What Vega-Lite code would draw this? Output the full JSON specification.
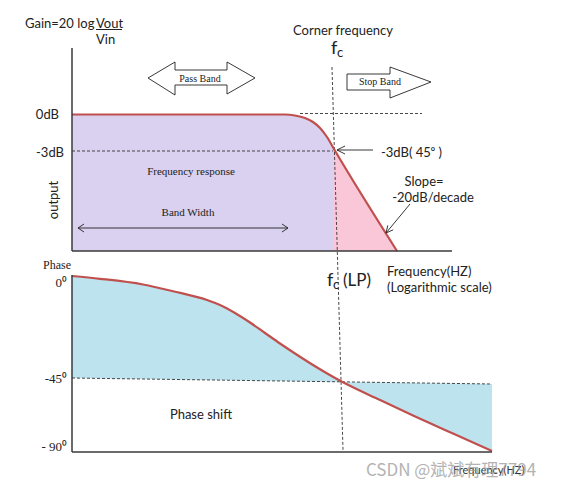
{
  "$schema": "https://vega.github.io/schema/vega-lite/v6.json",
  "width": 566,
  "height": 490,
  "padding": 0,
  "autosize": {"type": "fit", "contains": "padding"},
  "background": "white",
  "config": {"view": {"stroke": null}},
  "datasets": {
    "gain": [
      {"f": 72, "g": 114.5}, {"f": 200, "g": 114.5}, {"f": 285, "g": 114.5},
      {"f": 295, "g": 115.5}, {"f": 305, "g": 118}, {"f": 313, "g": 122},
      {"f": 320, "g": 128}, {"f": 327, "g": 137}, {"f": 334, "g": 149},
      {"f": 397, "g": 251}
    ],
    "phase": [
      {"f": 72, "p": 276, "ref": 378}, {"f": 100, "p": 278.8, "ref": 378.4},
      {"f": 143, "p": 284.5, "ref": 379}, {"f": 173, "p": 291.2, "ref": 379.4},
      {"f": 207, "p": 300, "ref": 379.9}, {"f": 220, "p": 305, "ref": 380.1},
      {"f": 235, "p": 313, "ref": 380.3}, {"f": 250, "p": 322.5, "ref": 380.6},
      {"f": 265, "p": 333, "ref": 380.8}, {"f": 280, "p": 343.5, "ref": 381},
      {"f": 295, "p": 353.5, "ref": 381.2}, {"f": 313, "p": 365, "ref": 381.4},
      {"f": 342, "p": 381.8, "ref": 381.9}, {"f": 380, "p": 400, "ref": 382.4},
      {"f": 413, "p": 415.5, "ref": 382.9}, {"f": 453, "p": 433.5, "ref": 383.4},
      {"f": 492, "p": 451, "ref": 384}
    ],
    "segs": [
      {"kind": "axis", "x": 72, "y": 48, "x2": 72, "y2": 251},
      {"kind": "axis", "x": 72, "y": 251, "x2": 452, "y2": 251},
      {"kind": "axis", "x": 72, "y": 275, "x2": 72, "y2": 452},
      {"kind": "axis", "x": 72, "y": 452, "x2": 492, "y2": 452},
      {"kind": "dash", "x": 72, "y": 151, "x2": 333, "y2": 151},
      {"kind": "dash", "x": 300, "y": 113.5, "x2": 422, "y2": 113.5},
      {"kind": "dash", "x": 332, "y": 67, "x2": 343, "y2": 450},
      {"kind": "dash", "x": 72, "y": 378, "x2": 492, "y2": 384},
      {"kind": "arrow", "x": 78, "y": 228, "x2": 288, "y2": 228},
      {"kind": "arrow", "x": 78, "y": 228, "x2": 84, "y2": 224},
      {"kind": "arrow", "x": 78, "y": 228, "x2": 84, "y2": 232},
      {"kind": "arrow", "x": 288, "y": 228, "x2": 282, "y2": 224},
      {"kind": "arrow", "x": 288, "y": 228, "x2": 282, "y2": 232},
      {"kind": "arrow", "x": 373, "y": 150, "x2": 337, "y2": 150},
      {"kind": "arrow", "x": 337, "y": 150, "x2": 345, "y2": 146},
      {"kind": "arrow", "x": 337, "y": 150, "x2": 345, "y2": 154},
      {"kind": "arrow", "x": 410, "y": 204, "x2": 386, "y2": 233},
      {"kind": "arrow", "x": 386, "y": 233, "x2": 393.2, "y2": 229.8},
      {"kind": "arrow", "x": 386, "y": 233, "x2": 387.8, "y2": 225.4}
    ],
    "blocks": [
      {"shape": "pass", "i": 0, "x": 148, "y": 78},
      {"shape": "pass", "i": 1, "x": 175, "y": 62},
      {"shape": "pass", "i": 2, "x": 175, "y": 70},
      {"shape": "pass", "i": 3, "x": 227, "y": 70},
      {"shape": "pass", "i": 4, "x": 227, "y": 62},
      {"shape": "pass", "i": 5, "x": 255, "y": 78},
      {"shape": "pass", "i": 6, "x": 227, "y": 94},
      {"shape": "pass", "i": 7, "x": 227, "y": 85},
      {"shape": "pass", "i": 8, "x": 175, "y": 85},
      {"shape": "pass", "i": 9, "x": 175, "y": 95},
      {"shape": "pass", "i": 10, "x": 148, "y": 78},
      {"shape": "stop", "i": 0, "x": 347, "y": 74},
      {"shape": "stop", "i": 1, "x": 390, "y": 74},
      {"shape": "stop", "i": 2, "x": 390, "y": 67},
      {"shape": "stop", "i": 3, "x": 431, "y": 82},
      {"shape": "stop", "i": 4, "x": 390, "y": 98},
      {"shape": "stop", "i": 5, "x": 390, "y": 90},
      {"shape": "stop", "i": 6, "x": 347, "y": 90},
      {"shape": "stop", "i": 7, "x": 347, "y": 74}
    ],
    "labels": [
      {"style": "sansLeft", "t": "Gain=20 log", "x": 25, "y": 24},
      {"style": "sansLeft", "t": "Vout", "x": 96, "y": 24},
      {"style": "sansLeft", "t": "Vin", "x": 96, "y": 40},
      {"style": "sansLeft", "t": "-3dB( 45⁰ )", "x": 381, "y": 153},
      {"style": "sansLeft", "t": "Frequency(HZ)", "x": 387, "y": 272},
      {"style": "sansLeft", "t": "(Logarithmic scale)", "x": 387, "y": 288},
      {"style": "sansRight", "t": "0dB", "x": 59, "y": 115},
      {"style": "sansRight", "t": "-3dB", "x": 64, "y": 153},
      {"style": "sansCenter", "t": "Corner frequency", "x": 343, "y": 31},
      {"style": "sansCenter", "t": "Slope=", "x": 424, "y": 182},
      {"style": "sansCenter", "t": "-20dB/decade", "x": 433, "y": 198},
      {"style": "sansCenter", "t": "Phase shift", "x": 201, "y": 415},
      {"style": "serifCenter", "t": "Frequency response", "x": 191, "y": 172},
      {"style": "serifCenter", "t": "Band Width", "x": 188, "y": 213},
      {"style": "serifSmall", "t": "Pass Band", "x": 200, "y": 79},
      {"style": "serifSmall", "t": "Stop Band", "x": 380, "y": 82},
      {"style": "serifLeft", "t": "Phase", "x": 43, "y": 265},
      {"style": "serifRight", "t": "0⁰", "x": 67, "y": 283},
      {"style": "serifRight", "t": "-45⁰", "x": 67, "y": 379},
      {"style": "serifRight", "t": "- 90⁰", "x": 67, "y": 447},
      {"style": "bigF", "t": "f", "x": 331, "y": 49},
      {"style": "subC", "t": "c", "x": 337, "y": 53},
      {"style": "bigF", "t": "f", "x": 327, "y": 281},
      {"style": "subC", "t": "c", "x": 333, "y": 285},
      {"style": "lp", "t": "(LP)", "x": 343, "y": 281},
      {"style": "rot", "t": "output", "x": 54, "y": 200},
      {"style": "tiny", "t": "Frequency(HZ)", "x": 453, "y": 471},
      {"style": "mark", "t": "CSDN @斌斌有理7794", "x": 451, "y": 471}
    ]
  },
  "layer": [
    {
      "data": {"name": "gain"},
      "transform": [{"filter": "datum.f <= 334"}],
      "mark": {"type": "area", "color": "#d9d1ef", "interpolate": "monotone"},
      "encoding": {
        "x": {"field": "f", "type": "quantitative", "scale": {"domain": [0, 566], "nice": false, "zero": false}, "axis": null},
        "y": {"field": "g", "type": "quantitative", "scale": {"domain": [0, 490], "nice": false, "zero": false, "reverse": true}, "axis": null},
        "y2": {"datum": 251}
      }
    },
    {
      "data": {"name": "gain"},
      "transform": [{"filter": "datum.f >= 334"}],
      "mark": {"type": "area", "color": "#f9c7d8"},
      "encoding": {
        "x": {"field": "f", "type": "quantitative"},
        "y": {"field": "g", "type": "quantitative"},
        "y2": {"datum": 251}
      }
    },
    {
      "data": {"name": "phase"},
      "mark": {"type": "area", "color": "#bde3ee", "interpolate": "monotone"},
      "encoding": {
        "x": {"field": "f", "type": "quantitative"},
        "y": {"field": "p", "type": "quantitative"},
        "y2": {"field": "ref"}
      }
    },
    {
      "data": {"name": "segs"},
      "transform": [{"filter": "datum.kind === 'dash'"}],
      "mark": {"type": "rule", "color": "#333333", "strokeWidth": 0.9, "strokeDash": [3, 2]},
      "encoding": {
        "x": {"field": "x", "type": "quantitative"},
        "y": {"field": "y", "type": "quantitative"},
        "x2": {"field": "x2"},
        "y2": {"field": "y2"}
      }
    },
    {
      "data": {"name": "gain"},
      "mark": {"type": "line", "color": "#c0504d", "strokeWidth": 2.2, "interpolate": "monotone"},
      "encoding": {
        "x": {"field": "f", "type": "quantitative"},
        "y": {"field": "g", "type": "quantitative"}
      }
    },
    {
      "data": {"name": "phase"},
      "mark": {"type": "line", "color": "#c0504d", "strokeWidth": 2.2, "interpolate": "monotone"},
      "encoding": {
        "x": {"field": "f", "type": "quantitative"},
        "y": {"field": "p", "type": "quantitative"}
      }
    },
    {
      "data": {"name": "segs"},
      "transform": [{"filter": "datum.kind === 'axis'"}],
      "mark": {"type": "rule", "color": "#3a3a3a", "strokeWidth": 1.5},
      "encoding": {
        "x": {"field": "x", "type": "quantitative"},
        "y": {"field": "y", "type": "quantitative"},
        "x2": {"field": "x2"},
        "y2": {"field": "y2"}
      }
    },
    {
      "data": {"name": "segs"},
      "transform": [{"filter": "datum.kind === 'arrow'"}],
      "mark": {"type": "rule", "color": "#222222", "strokeWidth": 0.9},
      "encoding": {
        "x": {"field": "x", "type": "quantitative"},
        "y": {"field": "y", "type": "quantitative"},
        "x2": {"field": "x2"},
        "y2": {"field": "y2"}
      }
    },
    {
      "data": {"name": "blocks"},
      "mark": {"type": "line", "color": "#222222", "strokeWidth": 0.9},
      "encoding": {
        "x": {"field": "x", "type": "quantitative"},
        "y": {"field": "y", "type": "quantitative"},
        "detail": {"field": "shape"},
        "order": {"field": "i"}
      }
    },
    {
      "data": {"values": [{"x": 96, "y": 29.5, "x2": 122, "y2": 29.5}]},
      "mark": {"type": "rule", "color": "#222222", "strokeWidth": 1},
      "encoding": {
        "x": {"field": "x", "type": "quantitative"},
        "y": {"field": "y", "type": "quantitative"},
        "x2": {"field": "x2"},
        "y2": {"field": "y2"}
      }
    },
    {
      "data": {"name": "labels"},
      "transform": [{"filter": "datum.style === 'sansLeft'"}],
      "mark": {"type": "text", "font": "Lato", "fontSize": 13, "align": "left", "baseline": "middle", "color": "#222222"},
      "encoding": {"x": {"field": "x", "type": "quantitative"}, "y": {"field": "y", "type": "quantitative"}, "text": {"field": "t"}}
    },
    {
      "data": {"name": "labels"},
      "transform": [{"filter": "datum.style === 'sansRight'"}],
      "mark": {"type": "text", "font": "Lato", "fontSize": 13, "align": "right", "baseline": "middle", "color": "#222222"},
      "encoding": {"x": {"field": "x", "type": "quantitative"}, "y": {"field": "y", "type": "quantitative"}, "text": {"field": "t"}}
    },
    {
      "data": {"name": "labels"},
      "transform": [{"filter": "datum.style === 'sansCenter'"}],
      "mark": {"type": "text", "font": "Lato", "fontSize": 13, "align": "center", "baseline": "middle", "color": "#222222"},
      "encoding": {"x": {"field": "x", "type": "quantitative"}, "y": {"field": "y", "type": "quantitative"}, "text": {"field": "t"}}
    },
    {
      "data": {"name": "labels"},
      "transform": [{"filter": "datum.style === 'serifCenter'"}],
      "mark": {"type": "text", "font": "Liberation Serif", "fontSize": 11, "align": "center", "baseline": "middle", "color": "#222222"},
      "encoding": {"x": {"field": "x", "type": "quantitative"}, "y": {"field": "y", "type": "quantitative"}, "text": {"field": "t"}}
    },
    {
      "data": {"name": "labels"},
      "transform": [{"filter": "datum.style === 'serifSmall'"}],
      "mark": {"type": "text", "font": "Liberation Serif", "fontSize": 10, "align": "center", "baseline": "middle", "color": "#222222"},
      "encoding": {"x": {"field": "x", "type": "quantitative"}, "y": {"field": "y", "type": "quantitative"}, "text": {"field": "t"}}
    },
    {
      "data": {"name": "labels"},
      "transform": [{"filter": "datum.style === 'serifLeft'"}],
      "mark": {"type": "text", "font": "Liberation Serif", "fontSize": 12, "align": "left", "baseline": "middle", "color": "#222222"},
      "encoding": {"x": {"field": "x", "type": "quantitative"}, "y": {"field": "y", "type": "quantitative"}, "text": {"field": "t"}}
    },
    {
      "data": {"name": "labels"},
      "transform": [{"filter": "datum.style === 'serifRight'"}],
      "mark": {"type": "text", "font": "Liberation Serif", "fontSize": 13, "align": "right", "baseline": "middle", "color": "#222222"},
      "encoding": {"x": {"field": "x", "type": "quantitative"}, "y": {"field": "y", "type": "quantitative"}, "text": {"field": "t"}}
    },
    {
      "data": {"name": "labels"},
      "transform": [{"filter": "datum.style === 'bigF'"}],
      "mark": {"type": "text", "font": "Lato", "fontSize": 18, "align": "left", "baseline": "middle", "color": "#222222"},
      "encoding": {"x": {"field": "x", "type": "quantitative"}, "y": {"field": "y", "type": "quantitative"}, "text": {"field": "t"}}
    },
    {
      "data": {"name": "labels"},
      "transform": [{"filter": "datum.style === 'subC'"}],
      "mark": {"type": "text", "font": "Lato", "fontSize": 13, "align": "left", "baseline": "middle", "color": "#222222"},
      "encoding": {"x": {"field": "x", "type": "quantitative"}, "y": {"field": "y", "type": "quantitative"}, "text": {"field": "t"}}
    },
    {
      "data": {"name": "labels"},
      "transform": [{"filter": "datum.style === 'lp'"}],
      "mark": {"type": "text", "font": "Lato", "fontSize": 17, "align": "left", "baseline": "middle", "color": "#222222"},
      "encoding": {"x": {"field": "x", "type": "quantitative"}, "y": {"field": "y", "type": "quantitative"}, "text": {"field": "t"}}
    },
    {
      "data": {"name": "labels"},
      "transform": [{"filter": "datum.style === 'rot'"}],
      "mark": {"type": "text", "font": "Lato", "fontSize": 13, "align": "center", "baseline": "middle", "angle": 270, "color": "#222222"},
      "encoding": {"x": {"field": "x", "type": "quantitative"}, "y": {"field": "y", "type": "quantitative"}, "text": {"field": "t"}}
    },
    {
      "data": {"name": "labels"},
      "transform": [{"filter": "datum.style === 'tiny'"}],
      "mark": {"type": "text", "font": "Lato", "fontSize": 11, "align": "left", "baseline": "middle", "color": "#333333"},
      "encoding": {"x": {"field": "x", "type": "quantitative"}, "y": {"field": "y", "type": "quantitative"}, "text": {"field": "t"}}
    },
    {
      "data": {"name": "labels"},
      "transform": [{"filter": "datum.style === 'mark'"}],
      "mark": {"type": "text", "font": "Noto Sans CJK SC", "fontSize": 17, "align": "center", "baseline": "middle", "color": "#9a9a9a", "opacity": 0.75},
      "encoding": {"x": {"field": "x", "type": "quantitative"}, "y": {"field": "y", "type": "quantitative"}, "text": {"field": "t"}}
    }
  ]
}
